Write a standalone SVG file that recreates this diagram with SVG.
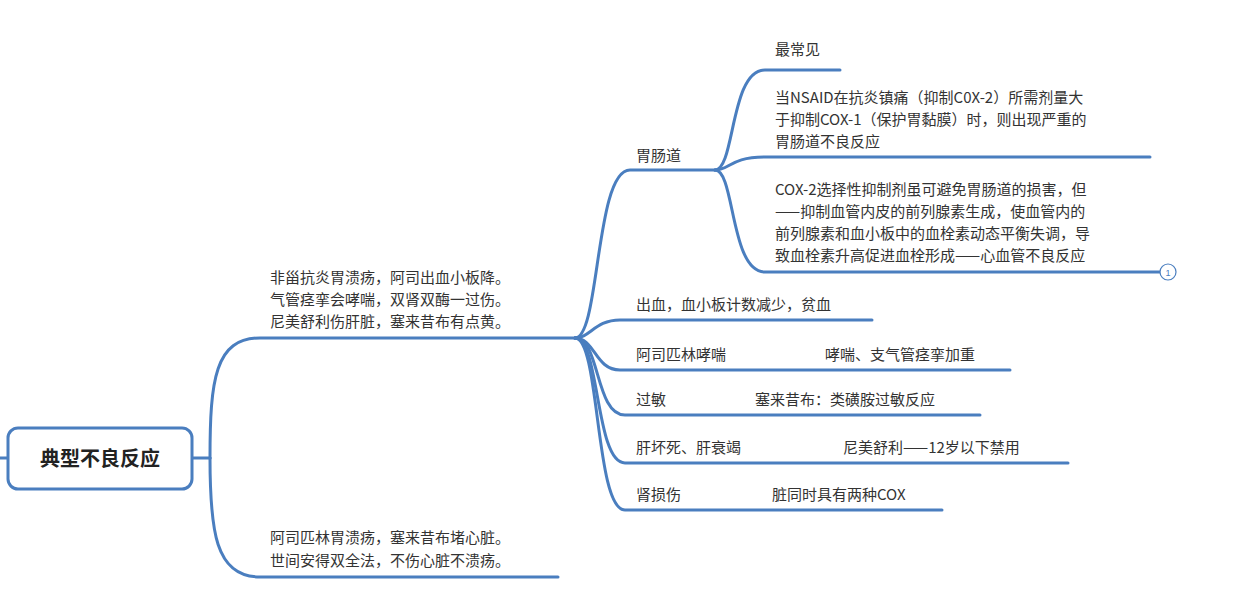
<svg xmlns="http://www.w3.org/2000/svg" width="1242" height="592" viewBox="0 0 1242 592">
<style>
.c{fill:none;stroke:#4a7ebf;stroke-width:3;stroke-linecap:round}
.t{font-family:"Noto Sans CJK SC","Liberation Sans",sans-serif;font-size:15px;fill:#333}
</style>
<rect width="1242" height="592" fill="#fff"/>
<g id="connectors">
<path class="c" d="M0 458H8"/>
<path class="c" d="M192 458H210"/>
<path class="c" d="M210 458C210 380 215 338 260 338H575"/>
<path class="c" d="M210 458C210 530 215 577 260 577H558"/>
<path class="c" d="M575 338C600 338 595 170 630 170H715"/>
<path class="c" d="M575 338C590 338 595 320 620 320H872"/>
<path class="c" d="M575 338C595 338 595 370 620 370H1010"/>
<path class="c" d="M575 338C600 338 595 415 625 415H980"/>
<path class="c" d="M575 338C600 338 595 463 625 463H1068"/>
<path class="c" d="M575 338C600 338 595 510 625 510H942"/>
<path class="c" d="M715 170C735 170 730 70 765 70H840"/>
<path class="c" d="M715 170C730 170 730 157 765 157H1150"/>
<path class="c" d="M715 170C735 170 730 272 765 272H1160"/>
<circle cx="1168" cy="272" r="8" fill="#fff" stroke="#4a7ebf" stroke-width="1.2"/>
<text x="1168" y="276" font-family="Liberation Sans,sans-serif" font-size="9" fill="#4a7ebf" text-anchor="middle">1</text>
</g>
<g id="root"><rect x="8" y="428" width="184" height="61" rx="10" fill="#fff" stroke="#4a7ebf" stroke-width="3"/>
<text x="100" y="466" text-anchor="middle" font-family="Noto Sans CJK SC,sans-serif" font-size="20" font-weight="bold" fill="#222">典型不良反应</text></g>
<g id="mnemonic1" class="t"><text class="t" x="270" y="283">非甾抗炎胃溃疡，阿司出血小板降。</text><text class="t" x="270" y="305">气管痉挛会哮喘，双肾双酶一过伤。</text><text class="t" x="270" y="327">尼美舒利伤肝脏，塞来昔布有点黄。</text></g>
<g id="mnemonic2"><text class="t" x="270" y="543">阿司匹林胃溃疡，塞来昔布堵心脏。</text><text class="t" x="270" y="566">世间安得双全法，不伤心脏不溃疡。</text></g>
<g id="gi"><text class="t" x="636" y="161">胃肠道</text></g>
<g id="gi1"><text class="t" x="775" y="55">最常见</text></g>
<g id="gi2"><text class="t" x="775" y="103">当NSAID在抗炎镇痛（抑制C0X-2）所需剂量大</text><text class="t" x="775" y="125">于抑制COX-1（保护胃黏膜）时，则出现严重的</text><text class="t" x="775" y="147">胃肠道不良反应</text></g>
<g id="gi3"><text class="t" x="775" y="195">COX-2选择性抑制剂虽可避免胃肠道的损害，但</text><text class="t" x="775" y="217">——抑制血管内皮的前列腺素生成，使血管内的</text><text class="t" x="775" y="239">前列腺素和血小板中的血栓素动态平衡失调，导</text><text class="t" x="775" y="261">致血栓素升高促进血栓形成——心血管不良反应</text></g>
<g id="bleed"><text class="t" x="636" y="310">出血，血小板计数减少，贫血</text></g>
<g id="asthma"><text class="t" x="636" y="360">阿司匹林哮喘</text><text class="t" x="825" y="360">哮喘、支气管痉挛加重</text></g>
<g id="allergy"><text class="t" x="636" y="405">过敏</text><text class="t" x="755" y="405">塞来昔布：类磺胺过敏反应</text></g>
<g id="liver"><text class="t" x="636" y="453">肝坏死、肝衰竭</text><text class="t" x="843" y="453">尼美舒利——12岁以下禁用</text></g>
<g id="kidney"><text class="t" x="636" y="500">肾损伤</text><text class="t" x="772" y="500">脏同时具有两种COX</text></g>
</svg>
